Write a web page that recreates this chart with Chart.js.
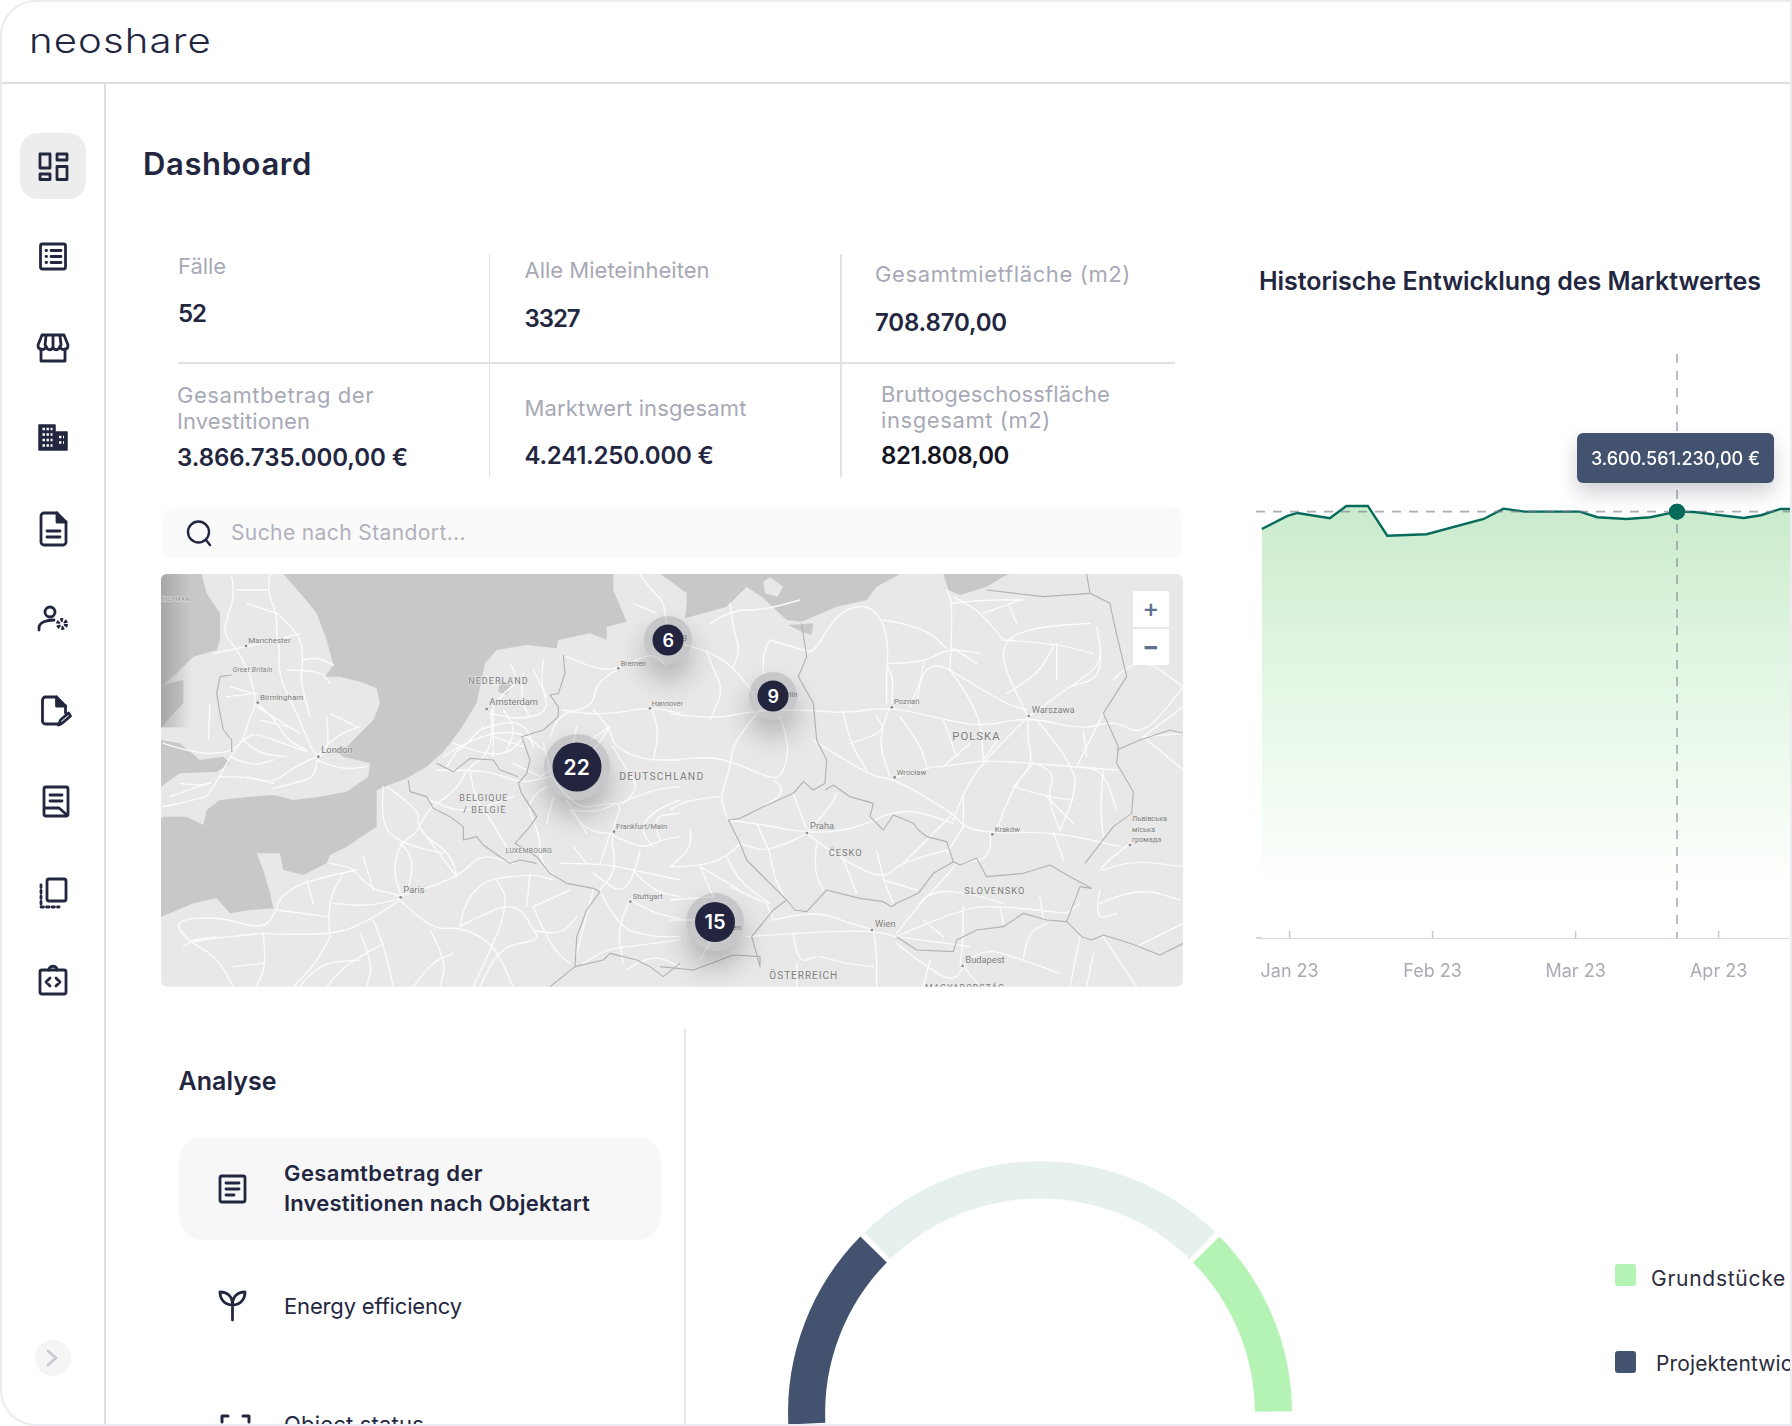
<!DOCTYPE html>
<html lang="de"><head><meta charset="utf-8"><title>neoshare Dashboard</title>
<script src="https://cdn.jsdelivr.net/npm/chart.js@4"></script>
<style>
html,body{margin:0;padding:0;background:#fff;width:1792px;height:1426px;overflow:hidden;font-family:Inter,"Noto Sans",sans-serif}
#frame{position:absolute;left:0;top:0;width:1792px;height:1426px;box-sizing:border-box;border:2px solid #ebebf0;border-right-width:2px;border-radius:36px 0 0 36px;overflow:hidden;background:#fff}
#page{position:absolute;left:-2px;top:-2px;width:1792px;height:1426px}
.abs{position:absolute}
.t{position:absolute;white-space:nowrap;line-height:1;transform:translateY(-50%)}
canvas{position:absolute}
.halo{position:absolute;border-radius:50%;background:rgba(70,70,80,.2);box-shadow:0 16px 28px rgba(0,0,0,.24);transform:translate(-50%,-50%)}
.dot{position:absolute;border-radius:50%;background:#23253f;color:#fff;display:flex;align-items:center;justify-content:center;font-weight:600;transform:translate(-50%,-50%)}
#tip{position:absolute;width:197px;height:50px;border-radius:6px;background:#43526f;box-shadow:0 10px 20px rgba(40,45,70,.22);color:#fff;display:flex;align-items:center;justify-content:center;font-weight:500;font-size:18px;white-space:nowrap}
svg text{font-family:Roboto,sans-serif;fill:#7d7d7d;stroke:#ececec;stroke-width:3;paint-order:stroke}
</style></head><body>
<div id="frame"><div id="page">

<!-- structure lines -->
<div class="abs" style="left:0;top:82px;width:1792px;height:2px;background:#dededf"></div>
<div class="abs" style="left:104px;top:84px;width:2px;height:1342px;background:#dededf"></div>
<div class="abs" style="left:20px;top:133px;width:66px;height:66px;border-radius:18px;background:#ededed"></div>
<div class="abs" style="left:488.5px;top:254px;width:1.5px;height:223px;background:#e2e2e5"></div>
<div class="abs" style="left:840px;top:254px;width:1.5px;height:223px;background:#e2e2e5"></div>
<div class="abs" style="left:178px;top:362px;width:997px;height:2px;background:#e2e2e5"></div>
<div class="abs" style="left:162px;top:508px;width:1021px;height:51px;border-radius:10px;background:#fafafa"></div>
<div class="abs" style="left:684px;top:1029px;width:2px;height:397px;background:#e6e6ea"></div>
<div class="abs" style="left:179px;top:1137px;width:482px;height:103px;border-radius:24px;background:#f7f7f7"></div>
<div class="abs" style="left:35px;top:1340px;width:36px;height:36px;border-radius:50%;background:#f5f5f6"></div>

<!-- icons -->
<svg class="abs" style="left:0;top:0" width="1792" height="1426" fill="none" stroke="#23263f" stroke-width="2.8" stroke-linejoin="round" stroke-linecap="round">
  <rect x="40" y="154" width="10" height="14"/><rect x="57" y="154" width="10" height="6"/><rect x="40" y="174" width="10" height="5.5"/><rect x="57" y="166.5" width="10" height="13"/>
  <rect x="40.5" y="244" width="25" height="25" rx="2"/><path d="M46 250.5h.6M46 256.5h.6M46 262.5h.6M51 250.5h10M51 256.5h10M51 262.5h10"/>
  <path d="M42 335h22l4 10c0 6-7 6-8 1-1 5-7 5-7 0 0 5-6 5-7 0-1 5-8 5-8-1zM41 349v12h24v-12M46 336l-1 9M53 336v9M60 336l1 9"/>
  <path d="M39 425h16v25h-16zM55 432h12v18h-12z" fill="#23263f" stroke-width="1.5"/>
  <path d="M42.5 429h10M42.5 434.5h10M42.5 440h10M42.5 445.5h10M59 437h5M59 442.5h5" stroke="#fff" stroke-width="2.4" stroke-linecap="butt" stroke-dasharray="2.4 1.6"/>
  <path d="M44 513h13l9 9v20a3 3 0 0 1-3 3H44a3 3 0 0 1-3-3V516a3 3 0 0 1 3-3z"/><path d="M57 513v9h9" fill="#23263f"/><path d="M47 531h13M47 537h13"/>
  <g transform="translate(-2 0)"><circle cx="52" cy="612" r="5"/><path d="M41 630v-2c0-6 8-8 15-8"/><circle cx="64" cy="624" r="4" stroke-width="4" stroke-linecap="butt" stroke-dasharray="2.6 1.6"/></g>
  <g transform="translate(-1.5 0)"><path d="M62 724H47a3 3 0 0 1-3-3v-21a3 3 0 0 1 3-3h11l9 9v7"/><path d="M58 697v9h9" fill="#23263f"/><path d="M60 725l2-5 8-7 2 3-8 7z"/></g>
  <path d="M46 787h20a2 2 0 0 1 2 2v25a2 2 0 0 1-2 2H46a2 2 0 0 1-2-2v-25a2 2 0 0 1 2-2zM44 808h15l8 7M50 795h12M50 801h12"/>
  <g transform="translate(-2 0)"><rect x="49" y="879" width="19" height="22" rx="2"/><path d="M43 885v22h18" stroke-dasharray="2.5 3"/></g>
  <g transform="translate(-2 -1)"><rect x="42" y="971" width="26" height="24" rx="2"/><path d="M51 971c0-5 8-5 8 0M52 979l-4 4 4 4M58 979l4 4-4 4"/></g>
  <circle cx="198.5" cy="532" r="10.5" stroke-width="2.4"/><path d="M206 540l4 5" stroke-width="2.4"/>
  <rect x="220" y="1176" width="25" height="26" rx="2"/><path d="M226 1183h13M226 1189h13M226 1195h8"/>
  <path d="M232.5 1320v-15M232.5 1305c-8 0-12.500-6-12.500-13 8 0 12.500 5 12.500 13zM232.500 1305c8 0 12.500-6 12.500-13-8 0-12.500 5-12.500 13z"/>
  <path d="M222 1422v-6h6M243 1416h6v6" stroke-width="3"/>
  <path d="M48 1351l8 7-8 7" stroke="#c8c9d2"/>
</svg>

<!-- map -->
<svg class="abs" id="map" style="left:160px;top:570px" width="1030" height="420" viewBox="0 0 3090 1260" fill="none">
  <defs><clipPath id="mc"><rect x="3" y="12" width="3066" height="1238" rx="18"/></clipPath>
  <linearGradient id="vg" x1="0" x2="1" y1="0" y2="0"><stop offset="0" stop-color="#8c8c8c" stop-opacity=".55"/><stop offset="1" stop-color="#8c8c8c" stop-opacity="0"/></linearGradient></defs>
  <g clip-path="url(#mc)"><rect x="0" y="0" width="3090" height="1260" fill="#e8e8e8"/>
  <g id="sea" fill="#c8c8c8"></g>
  <rect x="3" y="12" width="90" height="460" fill="url(#vg)"/>
  <g id="roads" stroke="#fbfbfb" stroke-width="4.2" stroke-linejoin="round" stroke-linecap="round"></g>
  <g id="borders" stroke="#b2b2b2" stroke-width="3.4" stroke-linejoin="round"></g>
  <g id="dots" fill="#8a8a8a"></g>
  <g id="names"></g></g>
</svg>
<div id="clusters"></div>
<div class="abs" style="left:1132.5px;top:590.5px;width:36.5px;height:36px;background:#fff"></div>
<div class="abs" style="left:1132.5px;top:628.5px;width:36.5px;height:36px;background:#fff"></div>
<div class="t" style="left:1132.5px;width:36.5px;text-align:center;top:608px;font-size:25px;font-weight:500;color:#60708e">+</div>
<div class="t" style="left:1132.5px;width:36.5px;text-align:center;top:646px;font-size:25px;font-weight:700;color:#60708e">−</div>

<!-- charts -->
<canvas id="trend" width="534" height="660" style="left:1256px;top:340px;width:534px;height:660px"></canvas>
<div id="tip"></div>
<div class="abs" style="left:760px;top:1130px;width:560px;height:294px;overflow:hidden"><canvas id="gauge" width="560" height="300" style="left:0;top:16px;width:560px;height:300px"></canvas></div>
<div class="abs" id="lg1" style="left:1615px;top:1264px;width:21px;height:22px;border-radius:3px"></div>
<div class="abs" id="lg2" style="left:1615px;top:1351px;width:21px;height:22px;border-radius:3px"></div>
<div id="texts"></div>
</div></div>

<script>
// ---- chart data ----
const monthLabels = ['Jan 23', 'Feb 23', 'Mar 23', 'Apr 23'];
const marketMonths = [-0.194, -0.015, 0.055, 0.281, 0.397, 0.547, 0.683, 0.958, 1.357, 1.495, 1.643, 2.029, 2.152, 2.355, 2.522, 2.709, 2.829, 3.174, 3.296, 3.433, 3.5];
const marketValues = [3454400000, 3564200000, 3589600000, 3544800000, 3648700000, 3648700000, 3397800000, 3409700000, 3538900000, 3625900000, 3600600000, 3600600000, 3553200000, 3538900000, 3553200000, 3600561230, 3598000000, 3547300000, 3570100000, 3623300000, 3623300000];
const cursorIndex = 15;
const gaugeLabels = ['Projektentwicklung', 'Sonstige', 'Grundstücke'];
const gaugeValues = [1014, 1901, 951];
const gaugeColors = ['#43526f', '#e6f0ee', '#b4f3b4'];
const tooltipText = '3.600.561.230,00 €';

// ---- page texts: text, x, centre y, font size, weight, colour, target width ----
const ink = '#23263f', mute = '#a8a9b6';
const pageTexts = [
 ['neoshare',29,41,34,300,ink,155],
 ['Dashboard',143,163,31,600,ink,169],
 ['Fälle',178,266,22,400,mute,48],['52',178,314,24,600,ink,28],
 ['Alle Mieteinheiten',524.5,270,22,400,mute,185],['3327',524.5,318.5,24,600,ink,55],
 ['Gesamtmietfläche (m2)',875,274,22,400,mute,256],['708.870,00',875,323,24,600,ink,132],
 ['Gesamtbetrag der',177,395,22,400,mute,197],['Investitionen',177,421,22,400,mute,133],['3.866.735.000,00 €',177,458,24,600,ink,231],
 ['Marktwert insgesamt',524.5,408,22,400,mute,222],['4.241.250.000 €',524.5,456,24,600,ink,189],
 ['Bruttogeschossfläche',881,394,22,400,mute,229],['insgesamt (m2)',881,420,22,400,mute,170],['821.808,00',881,456,24,600,'#14151f',128],
 ['Suche nach Standort...',231,532,21,400,'#b0b1bc',235],
 ['Historische Entwicklung des Marktwertes',1259,281,25,600,ink,502],
 ['Analyse',178.5,1080.5,25,600,ink,98],
 ['Gesamtbetrag der',284,1173,22,600,ink,199],['Investitionen nach Objektart',284,1203,22,600,ink,306],
 ['Energy efficiency',284,1306,22,400,ink,178],['Object status',284,1424,22,400,ink,140],
 ['Grundstücke',1651,1278,21,400,'#2a2c3d',135],['Projektentwicklung',1656,1363,21,400,'#2a2c3d',192]
];

// ---- map drawing (background decoration, in map pixels ×3); L = western half, R = eastern half ----
const seaL = [
 '370,12 430,80 470,130 500,210 520,285 495,320 540,320 600,335 650,355 660,400 640,450 590,500 560,530 520,540 550,560 630,580 625,620 560,665 480,680 400,690 340,675 270,680 180,690 140,720 130,765 80,740 10,740 3,745 3,1040 30,1030 100,1000 170,985 210,1030 270,1020 340,1015 330,970 310,900 290,850 360,850 370,900 430,915 500,880 510,855 560,830 620,790 650,770 650,660 740,625 800,590 850,545 900,480 950,400 975,280 1010,240 1100,225 1190,235 1195,210 1290,190 1340,210 1340,170 1400,155 1360,60 1360,12',
 '3,12 125,12 140,70 180,130 180,210 170,240 100,260 50,310 10,345 70,330 70,400 10,465 3,470',
 '3,510 60,520 120,570 190,560 210,580 170,605 60,610 3,650','1020,330 1055,345 1040,375 1015,365'];
const seaR = ['-30,12 10,40 50,70 50,100 45,145 100,130 170,110 200,80 230,50 275,80 350,150 395,155 500,110 590,90 620,50 690,12','820,12 835,60 870,75 950,50 1000,20 1020,12','355,165 430,160 425,195 395,185'];
const landR = ['280,35 300,22 340,50 322,80 285,70'];
const roadsL = [
 '330,12 320,60 350,130 350,200 360,240 355,300 380,370 420,450 450,530 475,560','215,20 225,70 205,130 190,190 225,230 270,310 290,400 270,440 250,510 210,560 180,620 140,680',
 '160,250 260,230 350,210 420,190','430,270 470,260 520,285','290,400 340,440 380,510 440,540','290,410 420,490','500,440 510,530 480,560','470,560 400,590 340,640 260,620',
 '470,570 540,600 620,590','470,570 470,620 400,640 340,655','10,520 100,550 210,550 260,500 290,490 370,520 440,545','60,640 130,650 170,630 30,680','140,680 60,700 10,710','150,400 145,510','200,380 290,370','210,350 280,370',
 '350,130 420,190 430,270 420,330 450,440','260,100 350,130','380,300 480,300 510,340','300,450 380,470','510,430 590,470','470,560 520,500 600,470','210,560 270,590 340,570','250,510 290,550 380,560','180,620 260,620 340,640','230,60 320,60',
 '1050,280 1080,330 1030,370 990,420 1000,480 980,560 925,590 890,660 800,720 770,790 720,820 700,900 720,970','1150,270 1140,340 1170,420 1090,450 990,430','850,560 940,500 1080,480 1150,540','880,520 990,560 1060,540 1090,500','1000,420 1000,560',
 '960,480 1040,450 1100,470 1120,530','1000,500 1090,530','1030,420 1070,470 1040,540','1090,310 1080,390 1110,440','1120,300 1160,380','900,540 970,470','860,590 900,530','1150,520 1170,600','1060,580 1140,620','1140,620 1230,560 1290,560 1350,470','1240,720 1300,730 1370,700','1220,690 1280,790','1180,680 1160,760',
 '830,600 930,600 1010,610 1080,640 1170,620','930,600 940,680 1000,760 1020,800 1040,830','1060,680 950,720 880,720 810,690','680,650 780,720 770,760 800,800 890,920','670,650 660,760 720,820 850,850','1160,650 1090,690 1140,790 1140,880 1200,930',
 '510,880 570,890 590,910 640,960 700,970 720,980 900,920 960,850 1060,880','720,820 760,850 750,950 720,985','590,900 440,930 360,980 350,1020 310,1080 180,1040 40,1050 80,1110 170,1160 220,1250','310,1090 100,1110 70,1130',
 '310,1090 510,1100 630,1050 720,990','640,1050 670,1120 700,1250','510,1100 500,1000 550,910','720,990 810,1080 900,1070 1000,1120 1060,1250','900,1070 920,940 1110,910 1180,930','900,1070 1010,1010 1080,1010 1120,1080 1140,1110 1020,1130 960,1250',
 '670,1120 560,1180 500,1250','810,1080 860,1170 840,1250','510,1100 470,1180 400,1250','310,1090 320,1180 290,1250','1120,1010 1170,1130 1230,1180',
 '890,920 880,860 800,800','640,960 610,860','720,985 640,1010 520,1000','440,930 460,1000','350,1020 500,1040','1000,1120 1050,1000 1010,930','1110,910 1100,1010','1000,1120 940,1250','1120,1080 1200,1100 1250,1040','760,1250 810,1180 880,1150','600,1090 640,1180 620,1250','1120,1010 1230,960','100,1110 170,1100','220,1190 310,1180','420,1250 470,1180 600,1170',
 '1220,260 1310,300 1380,295 1480,245 1520,290','1380,295 1310,330 1300,410 1200,430 1170,500','1300,420 1350,470 1360,530 1450,570 1560,570','1210,420 1310,440 1470,410 1560,430','1470,410 1500,470 1480,570','1250,470 1240,520','1350,470 1290,510',
 '1170,610 1240,720 1340,700 1390,700 1350,790 1370,900 1320,960','1380,700 1470,660 1560,650','1350,790 1290,790 1230,720','1350,790 1440,840 1500,810 1560,800','1440,840 1410,990 1300,910','1200,880 1320,880 1420,900 1560,930','1410,990 1480,1030 1560,1045','1410,990 1370,1070 1390,1180','1300,960 1250,1150','1440,12 1480,70 1510,90 1520,165','1420,100 1490,130',
 '1560,690 1480,720 1440,780 1480,830','1390,700 1440,660 1400,600 1360,530','1280,880 1240,830','1320,880 1350,790','1500,810 1470,740 1560,730','1420,900 1470,960 1560,980','1320,960 1370,1070 1470,1100 1560,1100','1270,1180 1330,1140 1400,1130 1560,1110','1400,1200 1470,1150 1560,1190'];
const roadsR = [
 '30,220 110,240 190,290 250,370','180,100 190,180 210,240 190,290','120,160 180,120 280,120 390,90','300,210 280,240 280,310','300,210 400,240 430,250 500,130 585,100 640,150 655,240 650,290 670,320 665,400','110,240 130,300 160,360 120,450',
 '0,430 120,450 260,420 430,420 520,430 660,410 830,450 940,470 1075,440 1240,480 1330,450 1420,500 1540,350','270,420 190,510 180,600 150,680 170,740','330,440 360,520 340,610 310,630 200,580 120,560 0,570','310,630 355,660 280,710',
 '430,510 600,620 670,625 850,730 880,770 960,790 1150,785 1350,830','670,625 780,590 820,590 940,570 1080,580 1220,590 1300,600 1340,720','1075,440 1000,300 1000,210 1100,170 1260,160','1075,440 940,570 880,670 850,750','1075,440 1070,500 1090,580 1030,650 980,780','1100,450 1220,590 1210,690 1170,780','1075,440 1200,350 1300,280 1280,170',
 '840,300 850,100 830,60','840,300 930,420 940,570','840,300 780,270 740,360 720,410','840,300 1000,400 1070,420','650,280 760,280 830,235 930,250','660,410 620,500 660,620','520,430 540,520 590,600','690,440 750,520 770,590','1000,210 940,130 850,80','1030,650 1130,680 1210,690','1540,490 1420,500',
 '640,150 760,170 830,235','840,100 930,90 1060,90','940,130 1050,90','1000,210 1150,220 1270,250','1160,220 1160,330','1290,240 1300,320 1200,350','1010,370 1100,320 1150,230','650,290 650,400','760,280 740,400','540,520 650,490 620,440','820,450 860,560','990,500 940,570','820,590 900,520','1030,650 1090,580','1090,580 1160,600 1130,680 1170,780','1130,680 1210,760','1220,590 1340,600','1300,600 1290,700 1300,800','880,670 880,770','880,770 830,850','850,730 700,880','1150,785 1180,870','960,790 970,860 880,880',
 '170,750 260,760 410,790 550,780 700,710 850,760','410,790 300,850 210,820','410,790 490,700 500,670','370,670 410,780','410,790 500,860 640,930 690,880 830,840','300,850 310,920 350,990','440,820 430,900 460,960','620,840 640,930 670,1000','640,930 740,960','520,870 560,970',
 '0,890 90,890 170,860 210,820','90,890 130,980','150,680 50,690 0,720','60,780 70,830 0,890','180,950 290,1000','0,1050 75,1050','130,1100 90,1170',
 '170,860 200,930 300,1000','90,890 210,960','260,760 300,850','0,990 130,980','290,1000 310,1050','750,1000 780,960 900,970 1000,1000','990,1010 1000,1060','1190,1030 1230,1000','1110,980 1120,1050','680,1100 900,1130','760,1250 780,1170','530,1180 610,1190','380,1180 380,1250','450,1160 530,1180','1290,960 1270,1050 1340,1030','1400,1130 1540,1060','1240,480 1250,560','1300,430 1220,590','1040,160 1020,110','850,235 920,280',
 '310,1050 430,1020 540,1060 610,1080','230,1100 370,1090 600,1080 680,1100','370,1090 380,1180 440,1160','610,1080 620,1140 620,1250','680,1090 750,1000 810,940 860,880','680,1100 880,1010 1010,1010 1190,1030','880,1010 880,1100 870,1190','760,1050 820,1100',
 '878,1190 930,1130 1060,1170 1170,1210','878,1190 860,1250 730,1160 680,1120','880,1190 930,1250','1060,1170 1070,1090 1130,1060','1230,1100 1200,1250','1270,1150 1250,1250','1300,1100 1400,1250','1380,820 1250,920 1380,870 1540,890','1290,1000 1400,950 1530,990','1420,500 1540,410','1420,500 1540,600','1330,330 1400,250 1540,350'];
const bordersL = [
 '1210,255 1215,310 1195,370 1170,375 1195,410 1195,440 1150,480 1085,500 1110,570 1100,610 1075,640 1085,670 1130,740 1110,770 1065,820 1130,860 1170,910 1220,940 1300,955 1320,965 1280,1020 1250,1100 1245,1190 1170,1250',
 '830,580 880,605 930,565 1000,570 1020,600 1075,620','745,630 750,665 800,680 820,715 870,740 910,770 910,810 950,800 970,825 1020,860 1050,880 1080,870 1130,880',
 '1245,1190 1330,1170 1350,1150 1430,1170 1470,1190 1510,1220 1560,1180','215,315 180,320 170,370 180,430 190,480 215,510 215,545'];
const bordersR = [
 '395,160 410,260 385,320 430,400 440,510 470,570 465,640','465,640 430,660 400,635 370,670 280,710 210,745 175,750 210,820 230,870 300,940 350,990 375,1020 410,1025 470,960 570,985 640,995 665,1010 680,1000 745,970 790,910 850,875 830,815 770,800 745,780 730,760 670,735 640,780 600,740 610,700 540,680 490,645 465,660',
 '850,875 870,885 920,865 950,920 1060,910 1140,885 1200,920 1265,955','680,1100 740,1140 850,1145 860,1110 920,1080 1000,1070 1060,1030 1130,1050 1190,1055 1235,1100 1265,1110','1265,955 1230,950 1190,1055','1245,880 1330,770 1385,730 1390,665 1340,580 1345,530 1300,430 1370,320 1330,150 1320,100 1260,70',
 '950,60 1120,80 1260,70 1250,12','-30,1190 70,1200 190,1155 270,1160 270,1190 245,1100 310,1020 350,990','1265,1110 1300,1095 1380,1120 1470,1155 1540,1120','1340,540 1410,510 1500,480 1540,490'];
// name, x, y, size, tracking, italic (x,y in crop units; R names are offset)
const namesL = [['E DI MAN',5,93,18,1],['Manchester',265,220,24,0],['Great Britain',218,306,20,1,1],['Birmingham',300,390,24,0],['London',484,550,28,0],['NEDERLAND',925,342,27,3],['Amsterdam',988,406,28,0],['BELGIQUE',898,692,27,3],['/ BELGIË',910,728,27,3],['LUXEMBOURG',1037,850,20,1],['Paris',730,970,28,0],['Bremen',1382,288,22,0],['Hannover',1475,408,22,0],['DEUTSCHLAND',1378,630,31,3.5],['Frankfurt/Main',1368,776,23,0],['Stuttgart',1418,987,23,0]];
const namesR = [['Hamburg',-40,208,22,0],['Berlin',322,380,24,0],['München',122,1081,22,0],['Poznań',672,403,23,0],['Warszawa',1085,428,28,0],['POLSKA',847,510,34,3],['Wrocław',680,614,23,0],['Kraków',974,785,23,0],['Praha',420,778,28,0],['ČESKO',476,858,28,3],['SLOVENSKO',883,973,28,3],['Wien',615,1070,28,0],['Budapest',886,1178,28,0],['ÖSTERREICH',298,1227,30,3],['MAGYARORSZÁG',765,1262,26,3],['Львівська',1386,754,22,0],['міська',1386,785,22,0],['громада',1386,817,22,0]];
const cityDots = [[258,228],[293,398],[475,560],[980,417],[722,982],[1375,295],[1470,415],[1362,785],[1411,995],[2195,412],[2606,438],[2204,622],[2497,793],[1941,789],[2136,1080],[2408,1188],[2910,825]];
// clusters: count, centre x, centre y, radius, halo radius, font size (page pixels)
const clusters = [[6,668.3,640,15.5,24,18],[9,773.3,696,15.5,24,18],[22,576.7,767.3,24.5,33,21],[15,715,921.7,20,29,20]];

const NS = 'http://www.w3.org/2000/svg', $ = id => document.getElementById(id);
function mk(parent, tag, attrs) { const e = document.createElementNS(NS, tag); for (const k in attrs) e.setAttribute(k, attrs[k]); parent.appendChild(e); return e; }
const RX = 1530;
const pts = (s, off) => s.split(' ').map(p => { const [x, y] = p.split(',').map(Number); return [x + off, y]; });
const flat = (s, off) => pts(s, off).map(p => p.join(',')).join(' ');
function smooth(s, off) {
  const a = pts(s, off); if (a.length < 3) return 'M' + a[0] + 'L' + a[a.length - 1];
  let d = 'M' + a[0].join(' ');
  for (let i = 1; i < a.length - 1; i++) {
    const mx = (a[i][0] + a[i + 1][0]) / 2, my = (a[i][1] + a[i + 1][1]) / 2;
    d += ` Q${a[i][0]} ${a[i][1]} ${mx} ${my}`;
  }
  return d + ' L' + a[a.length - 1].join(' ');
}
seaL.forEach(p => mk($('sea'), 'polygon', {points: flat(p, 0)}));
seaR.forEach(p => mk($('sea'), 'polygon', {points: flat(p, RX)}));
landR.forEach(p => mk($('sea'), 'polygon', {points: flat(p, RX), fill: '#e8e8e8'}));
roadsL.forEach(p => mk($('roads'), 'path', {d: smooth(p, 0)}));
roadsR.forEach(p => mk($('roads'), 'path', {d: smooth(p, RX)}));
bordersL.forEach(p => mk($('borders'), 'polyline', {points: flat(p, 0)}));
bordersR.forEach(p => mk($('borders'), 'polyline', {points: flat(p, RX)}));
cityDots.forEach(([x, y]) => mk($('dots'), 'circle', {cx: x, cy: y, r: 4}));
function nameIt(n, off) { const e = mk($('names'), 'text', {x: n[1] + off, y: n[2], 'font-size': n[3], 'letter-spacing': n[4]}); if (n[5]) e.setAttribute('font-style', 'italic'); e.textContent = n[0]; }
namesL.forEach(n => nameIt(n, 0)); namesR.forEach(n => nameIt(n, RX));

clusters.forEach(([n, x, y, r, h, f]) => {
  const a = document.createElement('div'); a.className = 'halo'; a.style.cssText = `left:${x}px;top:${y}px;width:${2*h}px;height:${2*h}px`; $('clusters').appendChild(a);
  const b = document.createElement('div'); b.className = 'dot'; b.style.cssText = `left:${x}px;top:${y}px;width:${2*r}px;height:${2*r}px;font-size:${f}px`; b.textContent = n; $('clusters').appendChild(b);
});

pageTexts.forEach(([s, x, y, size, w, c, tw]) => {
  const e = document.createElement('div'); e.className = 't'; e.textContent = s;
  e.style.cssText = `left:${x}px;top:${y}px;font-size:${size}px;font-weight:${w};color:${c}`;
  $('texts').appendChild(e);
  if (tw) e.style.letterSpacing = ((tw - e.getBoundingClientRect().width) / s.length) + 'px';
  if (s === 'neoshare') { e.style.transformOrigin = 'left center'; e.style.transform = 'translateY(-50%) scaleX(1.18)'; }
});
$('lg1').style.background = gaugeColors[2]; $('lg2').style.background = gaugeColors[0];

// ---- line chart ----
const yMax = 4932000000, xMin = -0.235, xMax = 3.499;
const cursorPlugin = {
  id: 'cursor',
  afterDatasetsDraw(chart) {
    const {ctx, chartArea: a, scales: {x, y}} = chart;
    const px = x.getPixelForValue(marketMonths[cursorIndex]), py = y.getPixelForValue(marketValues[cursorIndex]);
    ctx.save();
    ctx.strokeStyle = 'rgba(120,122,136,.62)'; ctx.lineWidth = 1.6; ctx.setLineDash([9, 8]);
    ctx.beginPath(); ctx.moveTo(px, a.top); ctx.lineTo(px, a.bottom); ctx.moveTo(a.left, py); ctx.lineTo(a.right, py); ctx.stroke();
    ctx.setLineDash([]); ctx.strokeStyle = '#c9c9d2'; ctx.lineWidth = 1.5; ctx.beginPath();
    x.ticks.forEach((t, i) => { const tx = x.getPixelForTick(i); ctx.moveTo(tx, a.bottom); ctx.lineTo(tx, a.bottom - 7); });
    ctx.stroke(); ctx.restore();
    chart.getDatasetMeta(0).data[cursorIndex].draw(ctx);
  }
};
const trend = new Chart($('trend'), {
  type: 'line',
  data: {datasets: [{
    data: marketMonths.map((m, i) => ({x: m, y: marketValues[i]})),
    borderColor: '#046b5b', borderWidth: 2.4, tension: 0, fill: 'origin',
    pointRadius: c => c.dataIndex === cursorIndex ? 8 : 0, pointBackgroundColor: '#046b5b', pointBorderWidth: 0,
    backgroundColor: c => {
      const sy = c.chart.scales && c.chart.scales.y; if (!sy || !c.chart.chartArea) return '#d8f1da';
      const g = c.chart.ctx.createLinearGradient(0, sy.getPixelForValue(marketValues[cursorIndex]), 0, 892 - 340);
      g.addColorStop(0, '#caebcd'); g.addColorStop(.35, '#dff5e0'); g.addColorStop(.8, '#f4fcf4'); g.addColorStop(1, '#ffffff');
      return g;
    }
  }]},
  options: {
    responsive: false, animation: false, events: [],
    layout: {padding: {top: 14, left: 0, right: 0, bottom: 0}},
    plugins: {legend: {display: false}, tooltip: {enabled: false}},
    scales: {
      x: {type: 'linear', min: xMin, max: xMax, position: 'bottom',
        afterBuildTicks: s => { s.ticks = monthLabels.map((_, i) => ({value: i})); },
        afterFit: s => { s.height = 62; s.paddingLeft = 0; s.paddingRight = 0; },
        grid: {display: false}, border: {color: '#d8d8df', width: 2},
        ticks: {autoSkip: false, maxRotation: 0, padding: 15, color: '#a9aab6', font: {family: 'Inter', size: 18}, callback: v => monthLabels[v]}},
      y: {display: false, min: 0, max: yMax}
    }
  },
  plugins: [cursorPlugin]
});
const pt = trend.getDatasetMeta(0).data[cursorIndex];
$('tip').textContent = tooltipText;
$('tip').style.left = (1256 + pt.x - 100) + 'px';
$('tip').style.top = (340 + pt.y - 78.5) + 'px';

// ---- half-ring chart ----
new Chart($('gauge'), {
  type: 'doughnut',
  data: {labels: gaugeLabels, datasets: [{data: gaugeValues, backgroundColor: gaugeColors, borderWidth: 0, spacing: 9}]},
  options: {responsive: false, animation: false, events: [], rotation: -93, circumference: 183, cutout: '85%', radius: 247.5,
    layout: {padding: 0}, plugins: {legend: {display: false}, tooltip: {enabled: false}}}
});
</script>
</body></html>
